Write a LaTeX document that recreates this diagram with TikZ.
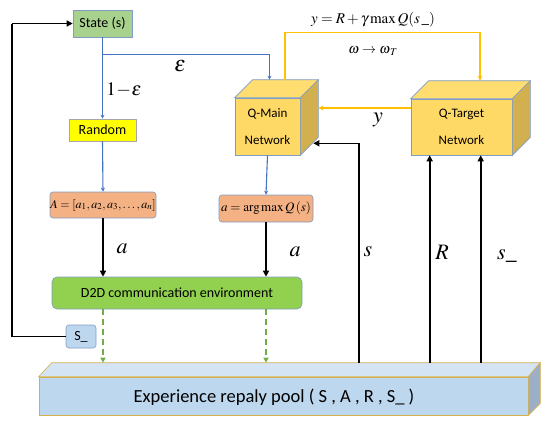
\documentclass[tikz,border=0pt]{standalone}
\usepackage{amsmath}
\usepackage{mathptmx}
\usepackage[no-math]{fontspec}
\setmainfont{Carlito}
\usetikzlibrary{arrows.meta,calc,positioning}
\definecolor{edgeblue}{HTML}{7F9CC4}
\definecolor{flowblue}{HTML}{4472C4}
\definecolor{flowgold}{HTML}{FFC000}
\definecolor{statefill}{HTML}{A9D18E}
\definecolor{randfill}{HTML}{FFFF00}
\definecolor{actfill}{HTML}{F4B183}
\definecolor{envfill}{HTML}{92D050}
\definecolor{sbarfill}{HTML}{BDD7EE}
\definecolor{cubefront}{HTML}{FFD966}
\definecolor{cubetop}{HTML}{FFDD70}
\definecolor{cubeside}{HTML}{D2B050}
\definecolor{poolfront}{HTML}{BDD7EE}
\definecolor{pooltop}{HTML}{D4E4F4}
\definecolor{poolside}{HTML}{9CAFC6}
\definecolor{poolline}{HTML}{D6B04C}
\definecolor{dashgreen}{HTML}{70AD47}

\begin{document}
\begin{tikzpicture}[x=1pt, y=-1pt,
    box/.style={draw=edgeblue, line width=0.6pt, inner sep=0pt, font=\fontsize{14}{16}\selectfont},
    cubeface/.style={draw=edgeblue, line width=0.6pt, fill=cubefront, inner sep=0pt,
        align=center, font=\fontsize{13}{15}\selectfont},
    blueflow/.style={draw=flowblue, line width=1.1pt, -{Stealth[length=4pt,width=4pt]}},
    goldflow/.style={draw=flowgold, line width=1.2pt, -{Stealth[length=5pt,width=5pt]}},
    blackflow/.style={draw=black, line width=1.6pt, -{Triangle[length=6pt,width=6pt]}},
    greenflow/.style={draw=dashgreen, line width=1.6pt, dash pattern=on 6pt off 4pt,
        -{Triangle[length=5pt,width=5pt]}},
    biglabel/.style={font=\fontsize{22}{24}\selectfont}]
    \useasboundingbox (0,0) rectangle (550,426);

    % Left column: state, random choice, actions
    \node[box, fill=statefill, minimum width=59pt, minimum height=27pt] (state) at (102.5,23.5) {State (s)};
    \node[box, draw=gray!70, fill=randfill, minimum width=67pt, minimum height=22pt] (random) at (102.5,130) {Random};
    \node[box, fill=actfill, rounded corners=3pt, minimum width=106pt, minimum height=26pt,
          font=\fontsize{12}{14}\selectfont] (actA) at (103,205)
         {$A=\left[a_1,a_2,a_3,\ldots,a_n\right]$};
    \node[box, fill=actfill, rounded corners=3pt, minimum width=94pt, minimum height=27pt,
          font=\fontsize{13}{15}\selectfont] (actq) at (266,208.5)
         {$a=\arg\max Q\left(s\right)$};
    \node[box, fill=envfill, rounded corners=5pt, minimum width=250pt, minimum height=32pt] (env) at (177,293)
         {D2D communication environment};
    \node[box, fill=sbarfill, rounded corners=3pt, minimum width=30pt, minimum height=23pt] (sbar) at (81,336.5) {S\_};

    % Q networks (front faces, then top and side)
    \node[cubeface, minimum width=65pt, minimum height=57pt] (qmain) at (267.5,126.5) {Q-Main\\[12pt]Network};
    \node[cubeface, minimum width=101pt, minimum height=56pt] (qtarget) at (461.5,127) {Q-Target\\[12pt]Network};
    \foreach \q in {qmain,qtarget} {
        \draw[draw=edgeblue, line width=0.6pt, fill=cubetop]
             (\q.north west) -- ++(18,-18) -- ($(\q.north east)+(18,-18)$) -- (\q.north east) -- cycle;
        \draw[draw=edgeblue, line width=0.6pt, fill=cubeside]
             (\q.north east) -- ++(18,-18) -- ($(\q.south east)+(18,-18)$) -- (\q.south east) -- cycle;
    }

    % Experience replay pool
    \node[draw=poolline, line width=0.6pt, fill=poolfront, minimum width=489pt, minimum height=38pt,
          inner sep=0pt] (pool) at (283.5,396) {};
    \draw[draw=poolline, line width=0.6pt, fill=pooltop]
         (pool.north west) -- ++(13,-14) -- ($(pool.north east)+(12,-14)$) -- (pool.north east) -- cycle;
    \draw[draw=poolline, line width=0.6pt, fill=poolside]
         (pool.north east) -- ++(12,-14) -- ($(pool.south east)+(12,-12)$) -- (pool.south east) -- cycle;
    \node[font=\fontsize{18.5}{20}\selectfont] (poolText) at (274,397) {Experience repaly pool ( S , A , R , S\_ )};

    % Helper points
    \coordinate (fork) at ($(state.south)+(0,17)$);
    \coordinate (qmtop) at ($(qmain.north)+(2,-18)$);
    \coordinate (qmback) at ($(qmain.north east)+(18,0)$);
    \coordinate (goldA) at ($(qmain.north)+(17.5,-18)$);
    \coordinate (goldB) at ($(qtarget.north)+(18.5,-18)$);
    \coordinate (poolTop) at ($(pool.north)+(0,-14)$);
    \coordinate (loopx) at (12,0);
    \coordinate (sIn) at ($(qmain.south east)+(13,-12)$);
    \coordinate (sCol) at (359,0);
    \coordinate (rIn) at ($(qtarget.south west)+(19,0)$);
    \coordinate (snIn) at ($(qtarget.south west)+(70,0)$);

    % Epsilon-greedy branch
    \draw[blueflow] (state.south) -- (random.north);
    \draw[blueflow] (fork) -| (qmtop);
    \node[font=\fontsize{19}{21}\selectfont] (lblOne) at (124,90) {$1\!-\!\varepsilon$};
    \node[biglabel] (lblEps) at (180,66) {$\varepsilon$};
    \draw[blueflow] (random.south) -- (actA.north);
    \draw[blueflow] (qmain.south) -- (actq.north);

    % Actions into the environment
    \draw[blackflow] (actA.south) -- (actA.south |- env.north);
    \draw[blackflow] (actq.south) -- (actq.south |- env.north);
    \node[biglabel] (lblA1) at (122,249) {$a$};
    \node[biglabel] (lblA2) at (295,252) {$a$};

    % Environment to pool and next state
    \draw[greenflow] (actA.south |- env.south) -- (actA.south |- poolTop);
    \draw[greenflow] (actq.south |- env.south) -- (actq.south |- poolTop);
    \draw[line width=1.6pt] (sbar.west) -| (loopx |- state.west);
    \draw[blackflow] (loopx |- state.west) -- (state.west);

    % Target update loop
    \draw[goldflow] (goldA) -- ++(0,-47) -| (goldB);
    \node[font=\fontsize{15}{17}\selectfont, inner sep=0pt] (lblY) at (373,20) {$y=R+\gamma\max Q(s\,\_)$};
    \node[font=\fontsize{14}{16}\selectfont, inner sep=0pt] (lblW) at (373,51) {$\omega\rightarrow\omega_{\,T}$};
    \draw[goldflow] ($(qtarget.west)+(0,-19)$) coordinate (yfrom) -- (yfrom -| qmback);
    \node[biglabel] (lblYy) at (378,120) {$y$};

    % Samples from the pool
    \draw[blackflow] (sCol |- poolTop) |- (sIn);
    \draw[blackflow] (rIn |- poolTop) -- (rIn);
    \draw[blackflow] (snIn |- poolTop) -- (snIn);
    \node[biglabel] (lblS) at (368,252) {$s$};
    \node[biglabel] (lblR) at (442,252) {$R$};
    \node[biglabel] (lblSn) at (507,256) {$s\_$};
\end{tikzpicture}
\end{document}
